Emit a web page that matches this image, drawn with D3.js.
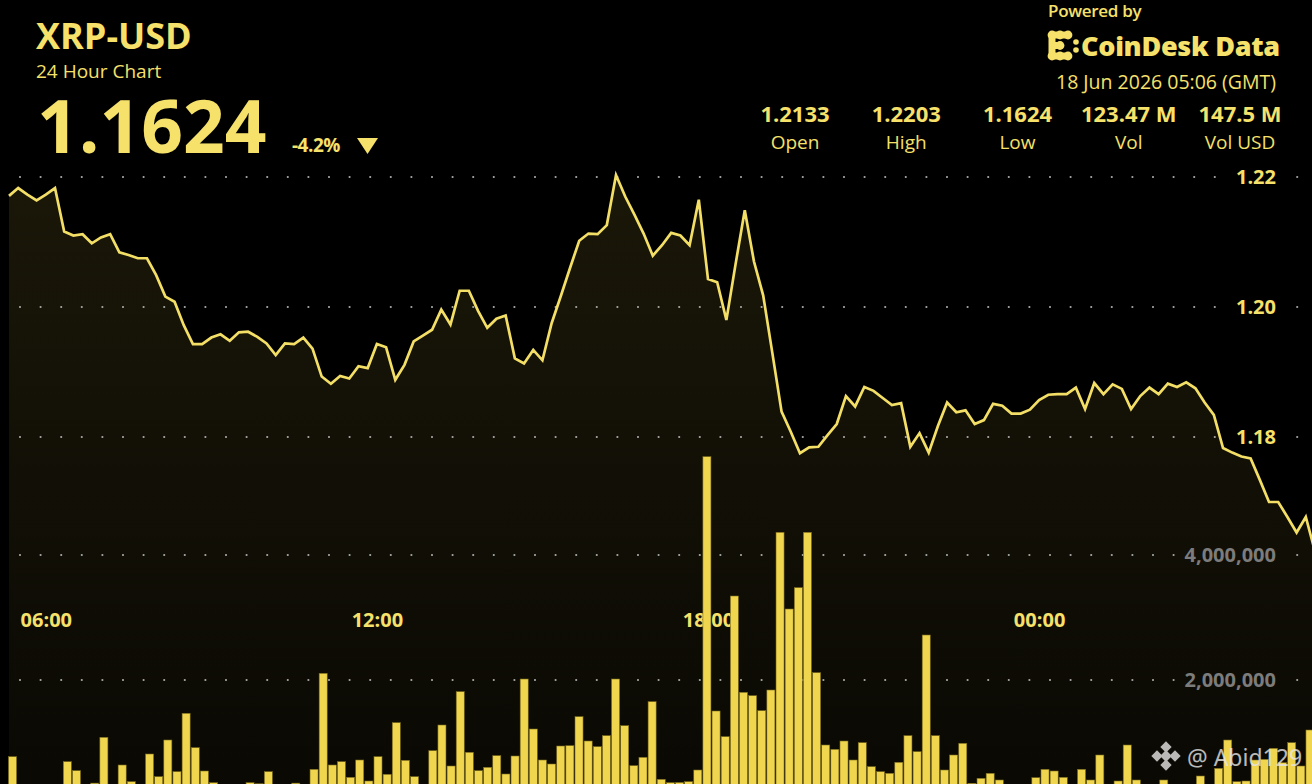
<!DOCTYPE html>
<html>
<head>
<meta charset="utf-8">
<script src="https://cdn.jsdelivr.net/npm/d3@7"></script>
<style>
  html, body { margin: 0; padding: 0; background: #000; overflow: hidden; }
  svg { display: block; font-family: "Open Sans", "Noto Sans", sans-serif; }
</style>
</head>
<body>
<div id="app"></div>
<script>
const width = 1312
const height = 784

const symbol = "XRP-USD"
const subtitle = "24 Hour Chart"
const lastPrice = "1.1624"
const change = "-4.2%"
const stamp = "18 Jun 2026 05:06 (GMT)"
const statLabels = ["Open", "High", "Low", "Vol", "Vol USD"]
const statValues = ["1.2133", "1.2203", "1.1624", "123.47 M", "147.5 M"]

// 10 minute samples, first one at 17 Jun 05:20 GMT
const startTime = Date.UTC(2026, 5, 17, 5, 20)
const prices = [
    1.2171, 1.2183, 1.2173, 1.2164, 1.2173, 1.2183, 1.2116, 1.2110, 1.2112, 1.2098,
    1.2107, 1.2112, 1.2084, 1.2080, 1.2075, 1.2075, 1.2049, 1.2016, 1.2008, 1.1972,
    1.1943, 1.1943, 1.1953, 1.1958, 1.1948, 1.1961, 1.1962, 1.1954, 1.1944, 1.1926,
    1.1944, 1.1943, 1.1953, 1.1936, 1.1893, 1.1882, 1.1894, 1.1890, 1.1909, 1.1906,
    1.1943, 1.1938, 1.1888, 1.1911, 1.1947, 1.1956, 1.1965, 1.1996, 1.1973, 1.2025,
    1.2025, 1.1994, 1.1968, 1.1982, 1.1987, 1.1921, 1.1913, 1.1934, 1.1918, 1.1975,
    1.2017, 1.2060, 1.2102, 1.2113, 1.2112, 1.2126, 1.2203, 1.2170, 1.2142, 1.2113,
    1.2079, 1.2095, 1.2114, 1.2110, 1.2095, 1.2165, 1.2043, 1.2038, 1.1980, 1.2066,
    1.2149, 1.2070, 1.2018, 1.1929, 1.1839, 1.1808, 1.1775, 1.1784, 1.1785, 1.1803,
    1.1820, 1.1863, 1.1847, 1.1877, 1.1871, 1.1860, 1.1849, 1.1852, 1.1785, 1.1806,
    1.1776, 1.1817, 1.1853, 1.1838, 1.1841, 1.1820, 1.1826, 1.1851, 1.1848, 1.1836,
    1.1836, 1.1842, 1.1857, 1.1865, 1.1866, 1.1866, 1.1876, 1.1843, 1.1883, 1.1866,
    1.1881, 1.1874, 1.1843, 1.1863, 1.1876, 1.1866, 1.1882, 1.1877, 1.1884, 1.1875,
    1.1853, 1.1834, 1.1783, 1.1776, 1.1770, 1.1767, 1.1734, 1.1700, 1.1700, 1.1677,
    1.1653, 1.1677, 1.1624
]
const volumes = [
    773000, 250000, 180000, 220000, 300000, 260000, 693000, 549000, 310000, 350000,
    1083000, 280000, 640000, 373000, 290000, 816000, 453000, 1040000, 533000, 1467000,
    917000, 544000, 357000, 200000, 240000, 190000, 357000, 340000, 533000, 300000,
    260000, 350000, 230000, 571000, 2107000, 640000, 693000, 443000, 720000, 384000,
    773000, 491000, 1317000, 715000, 453000, 250000, 869000, 1280000, 624000, 1813000,
    843000, 549000, 603000, 789000, 496000, 784000, 2016000, 1216000, 720000, 656000,
    944000, 949000, 1413000, 1024000, 933000, 1109000, 2016000, 1269000, 629000, 763000,
    1653000, 411000, 357000, 360000, 373000, 560000, 5573000, 1504000, 1093000, 3344000,
    1803000, 1749000, 1509000, 1840000, 4363000, 3136000, 3477000, 4363000, 2117000, 960000,
    891000, 1024000, 720000, 997000, 613000, 533000, 507000, 683000, 1109000, 853000,
    2720000, 1109000, 560000, 800000, 987000, 347000, 427000, 507000, 400000, 280000,
    250000, 300000, 437000, 571000, 544000, 443000, 290000, 571000, 400000, 800000,
    300000, 384000, 960000, 400000, 320000, 260000, 400000, 300000, 330000, 280000,
    464000, 300000, 587000, 1040000, 373000, 384000, 720000, 731000, 907000, 677000,
    997000, 624000, 1200000
]
const priceTicks = [1.18, 1.20, 1.22]
const volumeTicks = [2000000, 4000000]
const timeTicks = [
    Date.UTC(2026, 5, 17, 6), Date.UTC(2026, 5, 17, 12),
    Date.UTC(2026, 5, 17, 18), Date.UTC(2026, 5, 18, 0)
]

const yellow = "#f6e16a"
const barColor = "#f0d64f"
const dotStart = 20
const dotStep = 20.6

const data = prices.map((p, i) => ({
    i,
    t: d3.utcMinute.offset(new Date(startTime), i * 10),
    p,
    v: volumes[i],
}))

const x = d3.scaleUtc()
    .domain(d3.extent(data, d => d.t))
    .range([9, 1315])
const xBar = d3.scaleBand()
    .domain(data.map(d => d.i))
    .range([8.5, 1314])
    .paddingInner(0.12)
const y = d3.scaleLinear().domain([1.18, 1.22]).range([437, 177])
const yVol = d3.scaleLinear().domain([0, 4000000]).range([805, 555])

const svg = d3.select("#app").append("svg")
    .attr("width", width)
    .attr("height", height)

svg.append("rect").attr("width", width).attr("height", height).attr("fill", "#000")

const grad = svg.append("defs").append("linearGradient")
    .attr("id", "fade")
    .attr("gradientUnits", "userSpaceOnUse")
    .attr("x1", 0).attr("x2", 0)
    .attr("y1", 170).attr("y2", height)
grad.append("stop").attr("offset", 0).attr("stop-color", "#f0d650").attr("stop-opacity", 0.11)
grad.append("stop").attr("offset", 1).attr("stop-color", "#f0d650").attr("stop-opacity", 0.04)

// area under the price line
svg.append("path")
    .datum(data)
    .attr("fill", "url(#fade)")
    .attr("d", d3.area().x(d => x(d.t)).y0(height).y1(d => y(d.p)))

// dotted grid, filled in once the right labels are measured
const grid = svg.append("g")
    .attr("stroke", "#a8a8a8")
    .attr("stroke-width", 2.2)
    .attr("stroke-linecap", "round")
    .attr("stroke-dasharray", `0 ${dotStep}`)

// time axis
const xAxis = g => g
    .attr("transform", "translate(0, 627)")
    .call(d3.axisBottom(x).tickValues(timeTicks.map(t => new Date(t)))
        .tickFormat(d3.utcFormat("%H:%M")).tickSize(0).tickPadding(0))
    .call(g => g.select(".domain").remove())
    .call(g => g.selectAll("text")
        .attr("dy", 0)
        .attr("fill", yellow)
        .attr("font-size", 20)
        .attr("font-weight", 700)
        .attr("font-family", "'Open Sans', 'Noto Sans', sans-serif"))
svg.append("g").call(xAxis)

// volume bars
svg.append("g")
    .attr("fill", barColor)
    .attr("stroke", "#7a6a1c")
    .attr("stroke-width", 0.6)
    .selectAll("rect").data(data).join("rect")
    .attr("x", d => xBar(d.i))
    .attr("width", xBar.bandwidth())
    .attr("y", d => yVol(d.v))
    .attr("height", d => yVol(0) - yVol(d.v))

// price line
svg.append("path")
    .datum(data)
    .attr("fill", "none")
    .attr("stroke", "#f3de66")
    .attr("stroke-width", 2.7)
    .attr("stroke-linejoin", "miter")
    .attr("d", d3.line().x(d => x(d.t)).y(d => y(d.p)))

// right axis labels; the dotted line breaks around each one
function axisLabel(yy, text, color) {
    const t = svg.append("text")
        .attr("x", 1276).attr("y", yy)
        .attr("dy", "0.36em")
        .attr("text-anchor", "end")
        .attr("font-size", 20)
        .attr("font-weight", 700)
        .attr("fill", color)
        .text(text)
    const b = t.node().getBBox()
    const lastBefore = dotStart + Math.floor((b.x - 10 - dotStart) / dotStep) * dotStep
    const firstAfter = dotStart + Math.ceil((b.x + b.width + 3 - dotStart) / dotStep) * dotStep
    grid.append("line").attr("x1", dotStart).attr("x2", lastBefore + 0.1).attr("y1", yy).attr("y2", yy)
    grid.append("line").attr("x1", firstAfter).attr("x2", width).attr("y1", yy).attr("y2", yy)
}
priceTicks.forEach(d => axisLabel(y(d), d3.format(".2f")(d), yellow))
volumeTicks.forEach(d => axisLabel(yVol(d), d3.format(",")(d), "#7c7c7c"))

// header left
svg.append("text").attr("x", 36).attr("y", 49)
    .attr("font-size", 36).attr("font-weight", 700).attr("fill", yellow)
    .text(symbol)
svg.append("text").attr("x", 36).attr("y", 78)
    .attr("font-size", 19).attr("fill", yellow)
    .text(subtitle)
svg.append("text").attr("x", 37).attr("y", 153)
    .attr("font-size", 73).attr("font-weight", 700).attr("fill", yellow)
    .text(lastPrice)
svg.append("text").attr("x", 292).attr("y", 152)
    .attr("font-size", 19).attr("font-weight", 700).attr("fill", yellow)
    .attr("letter-spacing", -0.5)
    .text(change)
svg.append("path")
    .attr("d", "M357,138 L378,138 L367.5,154 Z")
    .attr("fill", yellow)

// header right
svg.append("text").attr("x", 1048).attr("y", 17)
    .attr("font-size", 17).attr("font-weight", 600).attr("fill", yellow)
    .attr("letter-spacing", -0.3)
    .text("Powered by")

const logo = svg.append("g").attr("transform", "translate(1052, 35)")
logo.append("path")
    .attr("d", "M16,0 L0,0 L0,21 L16,21 M0,10.5 L8,10.5")
    .attr("fill", "none")
    .attr("stroke", yellow)
    .attr("stroke-width", 7)
    .attr("stroke-linecap", "round")
    .attr("stroke-linejoin", "round")
logo.selectAll("circle.c").data([[0, 0], [8, 0], [16, 0], [0, 21], [8, 21], [16, 21], [8, 10.5]]).join("circle")
    .attr("cx", d => d[0]).attr("cy", d => d[1]).attr("r", 4.4)
    .attr("fill", yellow)
logo.selectAll("circle.d").data([[24, 7], [24, 15]]).join("circle")
    .attr("cx", d => d[0]).attr("cy", d => d[1]).attr("r", 2.8)
    .attr("fill", yellow)
svg.append("text").attr("x", 1081).attr("y", 56)
    .attr("font-size", 27).attr("font-weight", 800).attr("fill", yellow)
    .attr("letter-spacing", -0.3)
    .text("CoinDesk Data")
svg.append("text").attr("x", 1276).attr("y", 89)
    .attr("text-anchor", "end")
    .attr("font-size", 19.5).attr("fill", yellow)
    .text(stamp)

const statX = d3.scalePoint().domain(statLabels).range([795, 1240])
const stats = svg.append("g").attr("text-anchor", "middle").attr("fill", yellow)
stats.selectAll("text.v").data(statLabels).join("text")
    .attr("x", d => statX(d)).attr("y", 122)
    .attr("font-size", 22).attr("font-weight", 700)
    .text((d, i) => statValues[i])
stats.selectAll("text.l").data(statLabels).join("text")
    .attr("x", d => statX(d)).attr("y", 149)
    .attr("font-size", 19)
    .text(d => d)

// watermark of the screenshot
const wm = svg.append("g").attr("fill", "#e6e6e6").attr("opacity", 0.8)
const dm = wm.append("g").attr("transform", "translate(1166, 756)")
dm.selectAll("rect").data([[0, -9, 4], [-9, 0, 4], [9, 0, 4], [0, 9, 4], [0, 0, 4.2]]).join("rect")
    .attr("x", d => d[0] - d[2]).attr("y", d => d[1] - d[2])
    .attr("width", d => d[2] * 2).attr("height", d => d[2] * 2)
    .attr("transform", d => `rotate(45, ${d[0]}, ${d[1]})`)
wm.append("text").attr("x", 1187).attr("y", 766)
    .attr("font-size", 23)
    .attr("font-family", "'Noto Sans', sans-serif")
    .text("@ Abid129")
</script>
</body>
</html>
